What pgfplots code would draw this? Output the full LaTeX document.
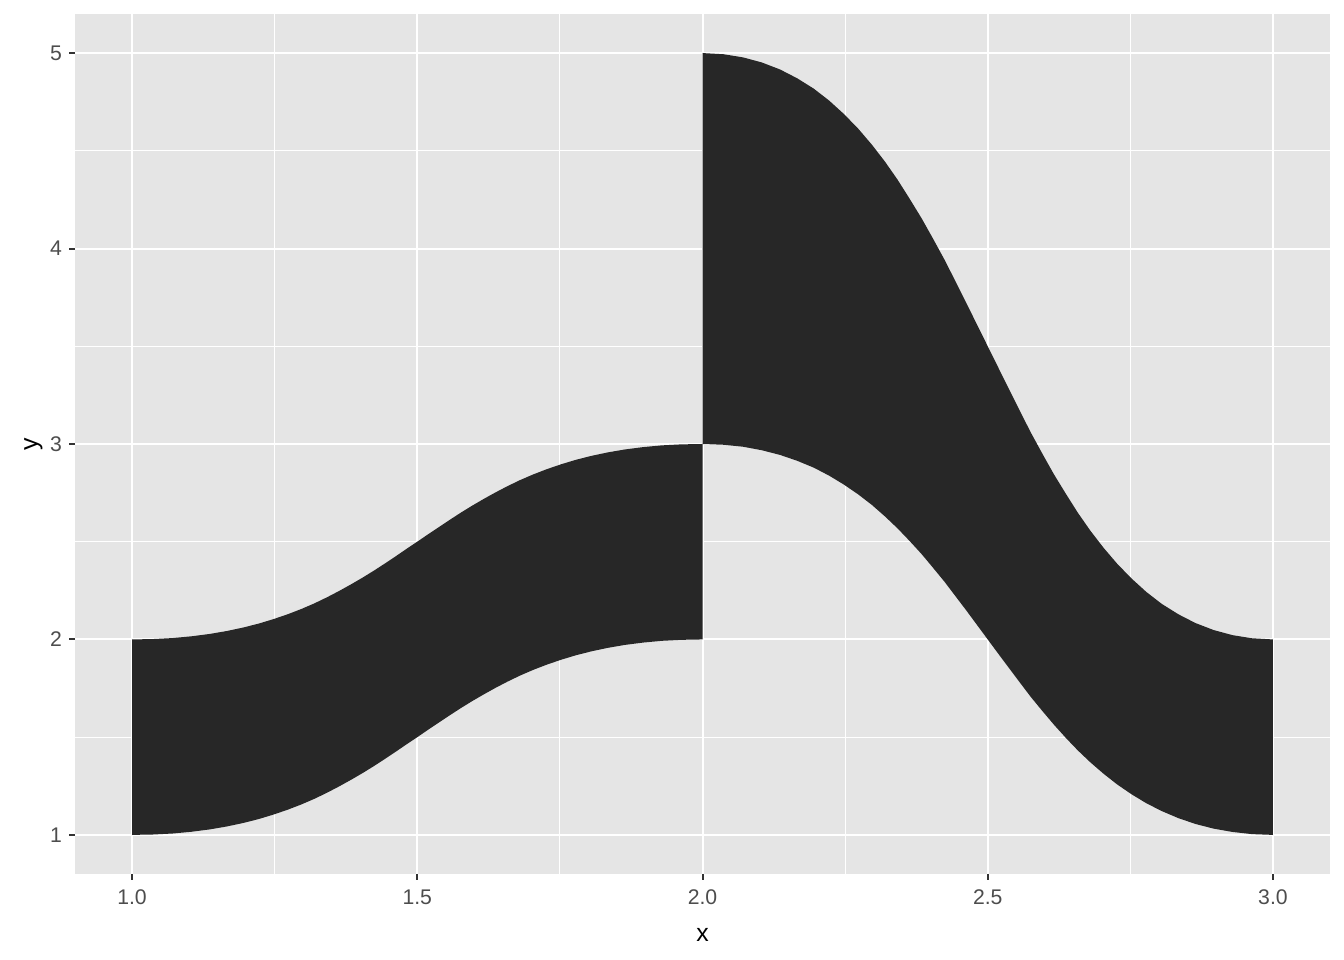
\documentclass[border=0pt]{standalone}
\usepackage{fontspec}
\setmainfont{Liberation Sans}
\usepackage{pgfplots}
\pgfplotsset{compat=1.18}
\definecolor{panelbg}{HTML}{E5E5E5}
\definecolor{ribbon}{HTML}{272727}
\definecolor{tickcol}{HTML}{333333}
\definecolor{labcol}{HTML}{4D4D4D}
\begin{document}
\begin{tikzpicture}
\begin{axis}[
  name=ax,
  scale only axis,
  width=627.5pt, height=430pt,
  xmin=0.9, xmax=3.1, ymin=0.8, ymax=5.2,
  clip=false,
  axis background/.style={fill=panelbg},
  axis line style={draw=none},
  xtick={1,1.5,2,2.5,3},
  xticklabels={1.0,1.5,2.0,2.5,3.0},
  ytick={1,2,3,4,5},
  minor xtick={1.25,1.75,2.25,2.75},
  minor ytick={1.5,2.5,3.5,4.5},
  grid=both,
  major grid style={white, line width=1pt},
  minor grid style={white, line width=0.5pt},
  major tick length=0pt,
  minor tick length=0pt,
  /pgf/number format/assume math mode=true,
  ticklabel style={font=\fontsize{10.6}{12}\selectfont, text=labcol},
  xticklabel style={yshift=-4.5pt},
  yticklabel style={xshift=-3pt},
  xlabel={x}, ylabel={y},
  label style={font=\fontsize{12.4}{14}\selectfont},
  xlabel style={yshift=-5pt},
  ylabel style={yshift=-3pt},
]
\addplot[fill=ribbon, draw=none] coordinates {
  (1,1)(1.037,1.002)(1.071,1.007)(1.104,1.016)(1.136,1.028)(1.166,1.043)(1.195,1.061)
  (1.222,1.081)(1.248,1.104)(1.273,1.129)(1.297,1.156)(1.320,1.185)(1.342,1.216)(1.363,1.248)
  (1.384,1.282)(1.404,1.316)(1.424,1.352)(1.443,1.388)(1.462,1.425)(1.481,1.463)(1.5,1.5)
  (1.519,1.538)(1.538,1.575)(1.557,1.612)(1.576,1.648)(1.596,1.684)(1.616,1.718)(1.637,1.752)
  (1.658,1.784)(1.680,1.815)(1.703,1.844)(1.727,1.871)(1.752,1.896)(1.778,1.919)(1.805,1.939)
  (1.834,1.957)(1.864,1.972)(1.896,1.984)(1.929,1.993)(1.963,1.998)(2,2)
  (2,3)(1.963,2.998)(1.929,2.993)(1.896,2.984)(1.864,2.972)(1.834,2.957)(1.805,2.939)
  (1.778,2.919)(1.752,2.896)(1.727,2.871)(1.703,2.844)(1.680,2.815)(1.658,2.784)(1.637,2.752)
  (1.616,2.718)(1.596,2.684)(1.576,2.648)(1.557,2.612)(1.538,2.575)(1.519,2.538)(1.5,2.5)
  (1.481,2.463)(1.462,2.425)(1.443,2.388)(1.424,2.352)(1.404,2.316)(1.384,2.282)(1.363,2.248)
  (1.342,2.216)(1.320,2.185)(1.297,2.156)(1.273,2.129)(1.248,2.104)(1.222,2.081)(1.195,2.061)
  (1.166,2.043)(1.136,2.028)(1.104,2.016)(1.071,2.007)(1.037,2.002)(1,2)
} -- cycle;
\addplot[fill=ribbon, draw=none] coordinates {
  (2,5)(2.037,4.994)(2.071,4.978)(2.104,4.952)(2.136,4.916)(2.166,4.871)(2.195,4.818)
  (2.222,4.757)(2.248,4.688)(2.273,4.613)(2.297,4.531)(2.320,4.444)(2.342,4.352)(2.363,4.255)
  (2.384,4.155)(2.404,4.051)(2.424,3.944)(2.443,3.835)(2.462,3.724)(2.481,3.612)(2.5,3.5)
  (2.519,3.388)(2.538,3.276)(2.557,3.165)(2.576,3.056)(2.596,2.949)(2.616,2.845)(2.637,2.745)
  (2.658,2.648)(2.680,2.556)(2.703,2.469)(2.727,2.387)(2.752,2.312)(2.778,2.243)(2.805,2.182)
  (2.834,2.129)(2.864,2.084)(2.896,2.048)(2.929,2.022)(2.963,2.006)(3,2)
  (3,1)(2.963,1.004)(2.929,1.015)(2.896,1.032)(2.864,1.056)(2.834,1.086)(2.805,1.122)
  (2.778,1.162)(2.752,1.208)(2.727,1.258)(2.703,1.313)(2.680,1.371)(2.658,1.432)(2.637,1.496)
  (2.616,1.564)(2.596,1.633)(2.576,1.704)(2.557,1.777)(2.538,1.851)(2.519,1.925)(2.5,2)
  (2.481,2.075)(2.462,2.150)(2.443,2.223)(2.424,2.296)(2.404,2.367)(2.384,2.437)(2.363,2.504)
  (2.342,2.568)(2.320,2.629)(2.297,2.688)(2.273,2.742)(2.248,2.792)(2.222,2.838)(2.195,2.879)
  (2.166,2.914)(2.136,2.944)(2.104,2.968)(2.071,2.986)(2.037,2.996)(2,3)
} -- cycle;
% ggplot-style tick marks outside the panel
\pgfplotsinvokeforeach{1,1.5,2,2.5,3}{
  \draw[tickcol, line width=1pt] (axis cs:#1,0.8) -- ++(0pt,-3pt);
}
\pgfplotsinvokeforeach{1,2,3,4,5}{
  \draw[tickcol, line width=1pt] (axis cs:0.9,#1) -- ++(-3pt,0pt);
}
\end{axis}
\pgfresetboundingbox
\path ([xshift=-37.5pt,yshift=-43pt]ax.south west) rectangle ([xshift=7pt,yshift=7pt]ax.north east);
\end{tikzpicture}
\end{document}
